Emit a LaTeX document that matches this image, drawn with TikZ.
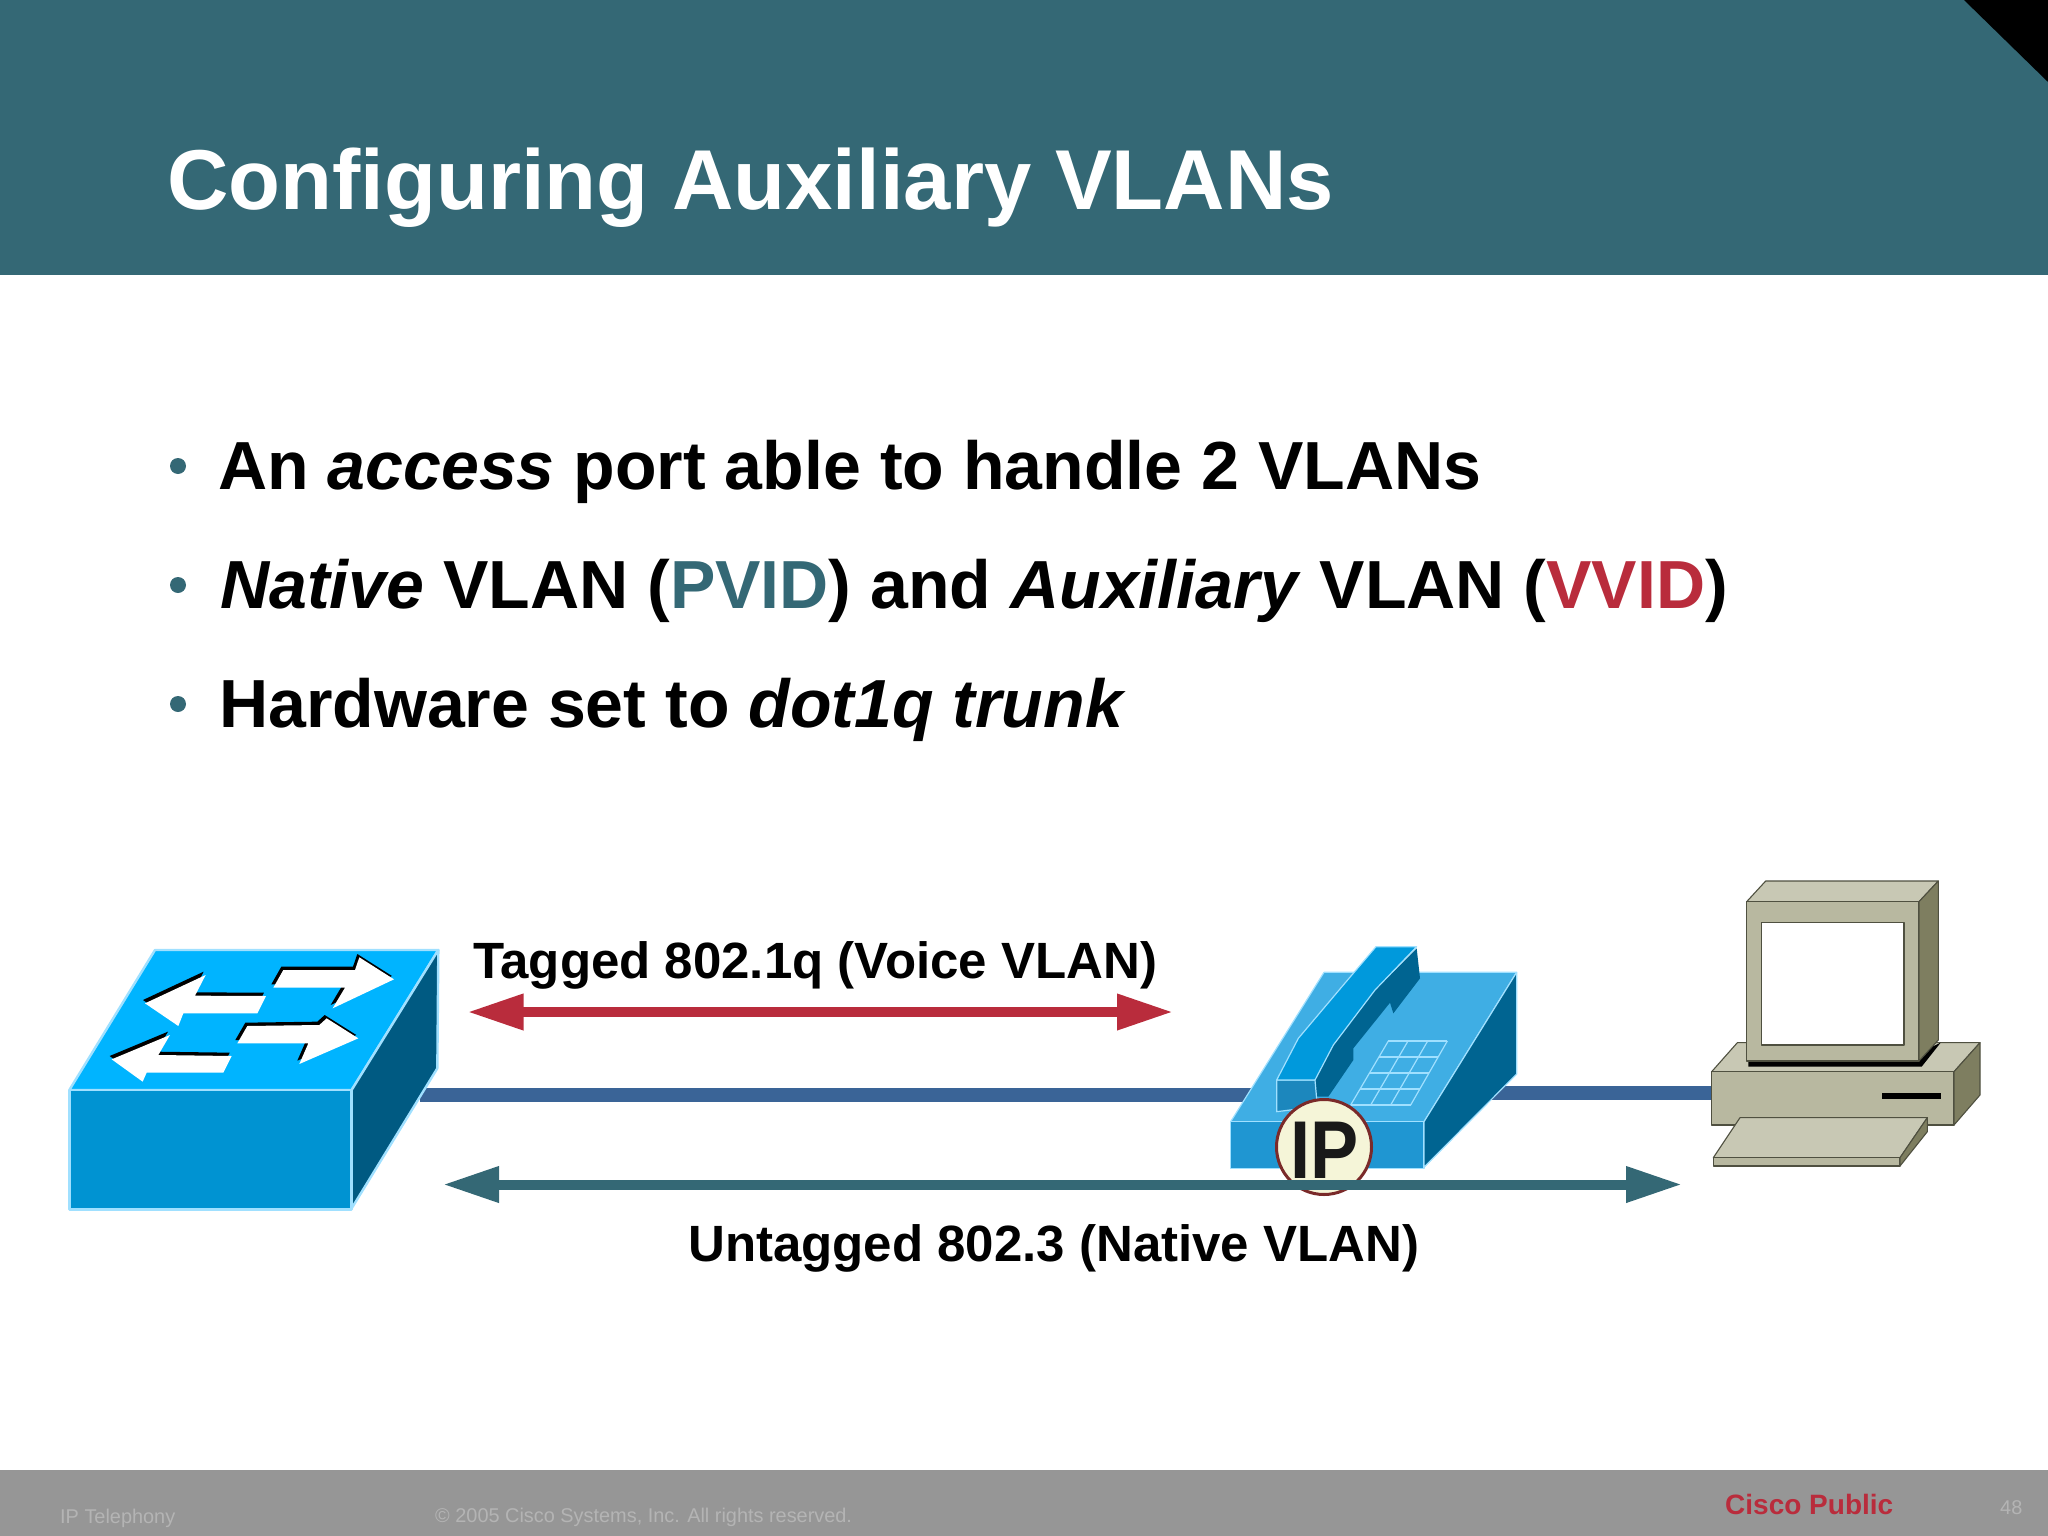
\documentclass[tikz,border=0pt]{standalone}
\usepackage{fontspec}
\setmainfont{Liberation Sans}
\usetikzlibrary{arrows.meta,calc}
\definecolor{slideteal}{HTML}{346875}
\definecolor{slidered}{HTML}{B92C3C}
\definecolor{slidegray}{HTML}{969696}
\definecolor{footgray}{HTML}{B4B4B4}
\definecolor{linkblue}{HTML}{3A6497}
\definecolor{swedge}{HTML}{A0E0FF}
\definecolor{swtop}{HTML}{00B4FF}
\definecolor{swfront}{HTML}{0093D2}
\definecolor{swside}{HTML}{005A82}
\definecolor{phtop}{HTML}{3FAEE4}
\definecolor{phfront}{HTML}{1F96D2}
\definecolor{phside}{HTML}{006491}
\definecolor{phhand}{HTML}{0099DC}
\definecolor{pcedge}{HTML}{4F5040}
\definecolor{pctop}{HTML}{C8C8B4}
\definecolor{pcfront}{HTML}{B8B8A0}
\definecolor{pcside}{HTML}{7E7E60}
\definecolor{ipfill}{HTML}{F5F5D8}
\definecolor{ipedge}{HTML}{7A2A2A}
\tikzset{
	titletext/.style={anchor=base west,inner sep=0pt,text=white,font=\fontsize{85}{96}\selectfont\bfseries},
	bullettext/.style={anchor=base west,inner sep=0pt,font=\fontsize{68.05}{80}\selectfont\bfseries},
	bulletdot/.style={circle,fill=slideteal,inner sep=0pt,minimum size=16pt},
	vlanlabel/.style={anchor=base west,inner sep=0pt,font=\fontsize{51}{62}\selectfont\bfseries},
	footlabel/.style={anchor=base west,inner sep=0pt,text=footgray,font=\fontsize{19.9}{25}\selectfont},
	sw/.style={draw=swedge,line width=2.4pt,line join=round},
	ph/.style={draw=swedge,line width=1.2pt,line join=round},
	pc/.style={draw=pcedge,line width=1.1pt,line join=round},
	link/.style={linkblue,line width=14pt},
	vlanarrow/.style={line width=10pt,{Triangle[length=56pt,width=34pt]}-{Triangle[length=56pt,width=34pt]}},
}
\newcommand{\switcharrow}[1]{
	\fill[black,shift={(-6,-10)}] #1;
	\fill[white] #1;
}
\begin{document}
\begin{tikzpicture}[x=1pt,y=-1pt]
	\useasboundingbox (0,0) rectangle (2048,1536);
	\fill[slideteal] (0,0) rectangle (2048,275);
	\fill[black] (1964,0) -- (2048,0) -- (2048,82) -- cycle;
	\fill[slidegray] (0,1470) rectangle (2048,1536);
	\node[titletext] (title) at (167,209) {Configuring Auxiliary VLANs};

	\node[bulletdot] (dot1) at (178,466) {};
	\node[bulletdot] (dot2) at (178,585) {};
	\node[bulletdot] (dot3) at (178,704) {};
	\node[bullettext] (line1) at (218,489) {An \textit{access} port able to handle 2 VLANs};
	\node[bullettext] (line2) at (220,608) {\textit{Native} VLAN (\textcolor{slideteal}{PVID}) and \textit{Auxiliary} VLAN (\textcolor{slidered}{VVID})};
	\node[bullettext] (line3) at (219,727) {Hardware set to \textit{dot1q trunk}};

	\coordinate (swport) at (420,1094.5);
	\coordinate (phoneleft) at (1270,1094.5);
	\coordinate (phoneright) at (1480,1092.5);
	\coordinate (pcport) at (1712,1092.5);
	\draw[link] (swport) -- (phoneleft);
	\draw[link] (phoneright) -- (pcport);

	\begin{scope}[shift={(40,920)},scale=1/3]
		\filldraw[sw,fill=swtop] (88,510) -- (345,90) -- (1195,90) -- (935,510) -- cycle;
		\filldraw[sw,fill=swfront] (88,510) rectangle (935,868);
		\filldraw[sw,fill=swside] (935,510) -- (1195,90) -- (1192,445) -- (935,865) -- cycle;
		\switcharrow{(315,250) -- (497,165) -- (465,227) -- (678,228) -- (652,280) -- (430,280) -- (415,318) -- cycle}
		\switcharrow{(215,418) -- (390,345) -- (355,405) -- (575,408) -- (550,458) -- (320,458) -- (308,485) -- cycle}
		\switcharrow{(1062,178) -- (958,112) -- (945,150) -- (730,150) -- (700,203) -- (915,203) -- (878,265) -- cycle}
		\switcharrow{(955,355) -- (860,295) -- (838,315) -- (622,318) -- (592,370) -- (805,370) -- (778,432) -- cycle}
	\end{scope}

	\begin{scope}[shift={(1200,920)},scale=1/3]
		\filldraw[ph,fill=phtop] (92,605) -- (372,157) -- (950,157) -- (672,605) -- cycle;
		\filldraw[ph,fill=phfront] (92,605) rectangle (672,745);
		\filldraw[ph,fill=phside] (672,605) -- (950,157) -- (950,462) -- (672,742) -- cycle;
		\coordinate (padnw) at (565,363);
		\coordinate (padne) at (742,363);
		\coordinate (padsw) at (452,555);
		\coordinate (padse) at (632,555);
		\foreach \padrow in {0,...,4}
			\draw[ph] ($(padnw)!\padrow/4!(padsw)$) -- ($(padne)!\padrow/4!(padse)$);
		\foreach \padcol in {0,...,3}
			\draw[ph] ($(padnw)!\padcol/3!(padne)$) -- ($(padsw)!\padcol/3!(padse)$);
		\fill[phside] (650,85) -- (660,175) -- (580,280) -- (570,248) -- (460,385) -- (460,420) -- (385,530) -- (350,530) -- (345,480) -- (400,375) -- (525,210) -- cycle;
		\filldraw[ph,fill=phfront!90!black] (230,480) -- (345,480) -- (352,560) -- (230,575) -- cycle;
		\filldraw[ph,fill=phhand] (230,480) -- (295,355) -- (430,195) -- (528,80) -- (650,80) -- (525,210) -- (400,375) -- (345,480) -- cycle;
	\end{scope}
	\node[circle,draw=ipedge,fill=ipfill,line width=3pt,inner sep=0pt,minimum size=95pt] (ip) at (1324,1147) {};
	\node[anchor=base,inner sep=0pt,font=\fontsize{82}{82}\selectfont\bfseries,text=black!90] (iptext) at (1325,1178) {\scalebox{0.88}[1]{IP}};

	\begin{scope}[shift={(1680,860)},scale=1/3]
		\filldraw[pc,fill=pctop] (95,635) -- (172,548) -- (900,548) -- (822,635) -- cycle;
		\filldraw[pc,fill=pcfront] (95,635) rectangle (822,795);
		\filldraw[pc,fill=pcside] (822,635) -- (900,548) -- (900,705) -- (822,795) -- cycle;
		\fill[black] (205,603) -- (205,620) -- (725,620) -- (782,548) -- (715,580) -- cycle;
		\filldraw[pc,fill=pctop] (200,125) -- (257,63) -- (775,63) -- (717,125) -- cycle;
		\filldraw[pc,fill=pcfront] (200,125) rectangle (717,603);
		\filldraw[pc,fill=pcside] (717,125) -- (775,63) -- (775,540) -- (717,603) -- cycle;
		\filldraw[pc,fill=white] (245,187) rectangle (672,555);
		\fill[black] (607,700) rectangle (782,716);
		\filldraw[pc,fill=pctop] (100,893) -- (180,773) -- (742,773) -- (660,893) -- cycle;
		\filldraw[pc,fill=pcfront] (100,893) rectangle (660,918);
		\filldraw[pc,fill=pcside] (660,893) -- (742,773) -- (742,815) -- (660,918) -- cycle;
	\end{scope}

	\coordinate (redleft) at (467.5,1012);
	\coordinate (redright) at (1173,1012);
	\coordinate (tealleft) at (443,1184.5);
	\coordinate (tealright) at (1682,1184.5);
	\draw[vlanarrow,slidered] (redleft) -- (redright);
	\draw[vlanarrow,slideteal] (tealleft) -- (tealright);
	\node[vlanlabel] (tagged) at (473,978) {Tagged 802.1q (Voice VLAN)};
	\node[vlanlabel] (untagged) at (688,1261) {Untagged 802.3 (Native VLAN)};

	\node[footlabel] (section) at (60,1523) {IP Telephony};
	\node[footlabel] (copyright) at (435,1522) {© 2005 Cisco Systems, Inc. All rights reserved.};
	\node[footlabel,text=slidered,font=\fontsize{28}{34}\selectfont\bfseries] (public) at (1725,1514) {Cisco Public};
	\node[footlabel] (pagenum) at (2000,1514) {48};
\end{tikzpicture}
\end{document}
